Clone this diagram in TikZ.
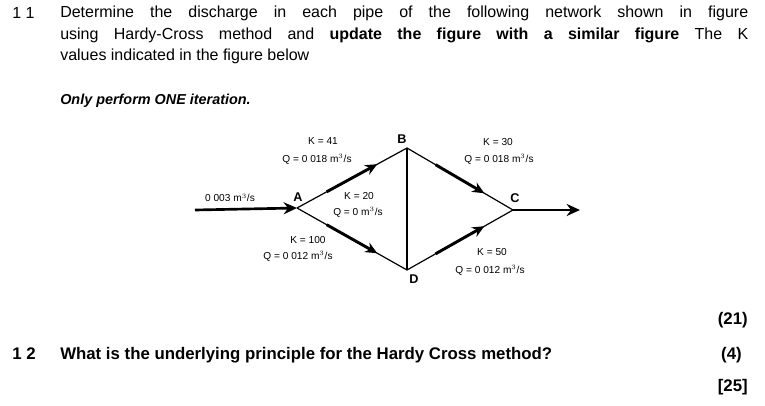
\documentclass[tikz,border=0pt]{standalone}
\usepackage{fontspec}
\setmainfont{Liberation Sans}
\usetikzlibrary{arrows.meta,calc}
\begin{document}
\begin{tikzpicture}[x=0.75pt,y=-0.75pt,
  txt/.style={anchor=base west,inner sep=0pt,font=\fontsize{12}{16}\selectfont},
  btxt/.style={txt,font=\bfseries\fontsize{12.6}{16}\selectfont},
  lab/.style={inner sep=0pt,font=\fontsize{7.6}{9}\selectfont},
  nd/.style={inner sep=0pt,font=\bfseries\fontsize{9.5}{10}\selectfont},
  pipe/.style={line width=0.9pt},
  flow/.style={line width=2.2pt,-{Stealth[length=9pt,width=8pt]}}]
\useasboundingbox (0,0) rectangle (765,406);
\node[txt] (n11) at (12,19) {1 1};
\node[txt,anchor=north west,text width=516pt,align=justify] (p1) at (60,6)
 {\hyphenpenalty=10000 Determine the discharge in each pipe of the following network shown in figure\linebreak using Hardy-Cross method and \textbf{update the figure with a similar figure} The K\linebreak values indicated in the figure below};
\node[txt,font=\bfseries\itshape\fontsize{10.8}{14}\selectfont] (it) at (60,105) {Only perform ONE iteration.};
\coordinate (A) at (297,208);
\coordinate (B) at (407,148);
\coordinate (D) at (407,270);
\coordinate (C) at (513,210);
\coordinate (in) at (195,210);
\coordinate (out) at (580,210);
\draw[pipe] (A)--(B)--(C)--(D)--(A);
\draw[pipe,line width=1.4pt] (B)--(D);
\draw[line width=2pt,-{Stealth[length=10pt,width=9pt]}] (in)--(A);
\draw[line width=2pt,-{Stealth[length=10pt,width=9pt]}] (C)--(out);
\draw[flow] ($(A)!0.27!(B)$)--($(A)!0.73!(B)$);
\draw[flow] ($(B)!0.27!(C)$)--($(B)!0.73!(C)$);
\draw[flow] ($(A)!0.27!(D)$)--($(A)!0.73!(D)$);
\draw[flow] ($(D)!0.27!(C)$)--($(D)!0.73!(C)$);
\node[nd] (la) at (298,197) {A};
\node[nd] (lb) at (402,139) {B};
\node[nd] (lc) at (515,198) {C};
\node[nd] (ld) at (414,279) {D};
\node[lab] (t1) at (230,198) {0 003 m$^3$/s};
\node[lab] (k1) at (323,141) {K = 41};
\node[lab] (q1) at (317,159) {Q = 0 018 m$^3$/s};
\node[lab] (k2) at (359,196) {K = 20};
\node[lab] (q2) at (358,212) {Q = 0 m$^3$/s};
\node[lab] (k3) at (308,240) {K = 100};
\node[lab] (q3) at (298,256) {Q = 0 012 m$^3$/s};
\node[lab] (k4) at (498,142) {K = 30};
\node[lab] (q4) at (499,159) {Q = 0 018 m$^3$/s};
\node[lab] (k5) at (492,252) {K = 50};
\node[lab] (q5) at (490,270) {Q = 0 012 m$^3$/s};
\node[btxt,anchor=base east] (m1) at (748,325) {(21)};
\node[btxt] (n12) at (12,359) {1 2};
\node[btxt] (q) at (60,359) {What is the underlying principle for the Hardy Cross method?};
\node[btxt,anchor=base east] (m2) at (742,359) {(4)};
\node[btxt,anchor=base east] (m3) at (748,392) {[25]};
\end{tikzpicture}
\end{document}
